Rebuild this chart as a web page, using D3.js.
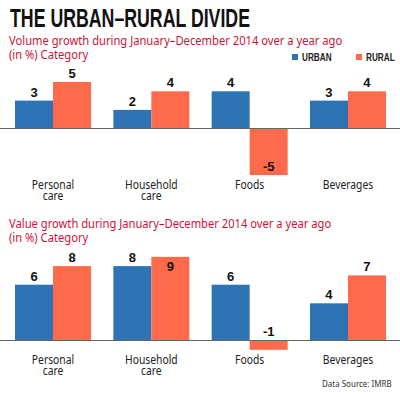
<!DOCTYPE html>
<html>
<head>
<meta charset="utf-8">
<script src="https://cdn.jsdelivr.net/npm/d3@7"></script>
<style>
  body { margin: 0; background: #fff; }
  svg { display: block; }
</style>
</head>
<body>
<div id="chart"></div>
<script>
const svgWidth = 400;
const svgHeight = 397;

// data
const categories = ["Personal care", "Household care", "Foods", "Beverages"];
const seriesNames = ["URBAN", "RURAL"];
const volumeUrban = [3, 2, 4, 3];
const volumeRural = [5, 4, -5, 4];
const valueUrban = [6, 8, 6, 4];
const valueRural = [8, 9, -1, 7];

const colors = { URBAN: "#2e74b5", RURAL: "#fd6a4c" };
const subColor = "#cf1237";
const pxPerUnit = 9.3;

const svg = d3.select("#chart")
  .append("svg")
  .attr("width", svgWidth)
  .attr("height", svgHeight);

// squeeze a text horizontally, the original uses a condensed face
function squeeze(sel, factor) {
  sel.each(function() {
    const w = this.getComputedTextLength();
    d3.select(this)
      .attr("textLength", w * factor)
      .attr("lengthAdjust", "spacingAndGlyphs");
  });
  return sel;
}

// title
svg.append("text")
  .attr("x", 10)
  .attr("y", 27)
  .attr("font-family", "Liberation Sans, Arial, sans-serif")
  .attr("font-weight", "bold")
  .attr("font-size", 26)
  .attr("fill", "#111")
  .attr("textLength", 240)
  .attr("lengthAdjust", "spacingAndGlyphs")
  .text("THE URBAN\u2013RURAL DIVIDE");

// shared x scales
const x0 = d3.scaleBand()
  .domain(categories)
  .range([15, 386])
  .paddingInner(0.227)
  .paddingOuter(0);

const x1 = d3.scaleBand()
  .domain(seriesNames)
  .range([0, x0.bandwidth()]);

function subtitle(y, line1) {
  [line1, "(in %) Category"].forEach((s, i) => {
    const t = svg.append("text")
      .attr("x", 9)
      .attr("y", y + i * 14)
      .attr("font-family", "Noto Sans, sans-serif")
      .attr("font-size", 13)
      .attr("fill", subColor)
      .text(s);
    squeeze(t, 0.86);
  });
}

function drawPanel(urban, rural, baseY, subBottom) {
  const rows = categories.map((c, i) => ({ cat: c, URBAN: urban[i], RURAL: rural[i] }));

  const y = d3.scaleLinear()
    .domain([-10, 10])
    .range([baseY + 10 * pxPerUnit, baseY - 10 * pxPerUnit]);

  const g = svg.append("g");

  const groups = g.selectAll("g.cat")
    .data(rows)
    .enter()
    .append("g")
    .attr("transform", d => `translate(${x0(d.cat)},0)`);

  const bars = groups.selectAll("g.bar")
    .data(d => seriesNames.map(k => ({ key: k, value: d[k] })))
    .enter()
    .append("g");

  bars.append("rect")
    .attr("x", d => x1(d.key))
    .attr("width", x1.bandwidth())
    .attr("y", d => y(Math.max(0, d.value)))
    .attr("height", d => Math.abs(y(d.value) - y(0)))
    .attr("fill", d => colors[d.key]);

  bars.append("text")
    .attr("x", d => x1(d.key) + x1.bandwidth() / 2)
    .attr("y", d => {
      const top = y(d.value);
      if (d.value >= 0) {
        // label would run into the subtitle: put it inside the bar
        if (top - 14 < subBottom) return top + 14;
        return top - 4;
      }
      const h = y(d.value) - y(0);
      return h > 20 ? top - 4 : y(0) - 5;
    })
    .attr("text-anchor", "middle")
    .attr("font-family", "Liberation Sans, sans-serif")
    .attr("font-weight", "bold")
    .attr("font-size", 13)
    .attr("fill", "#111")
    .text(d => d.value);

  // zero line
  g.append("line")
    .attr("x1", 0)
    .attr("x2", svgWidth)
    .attr("y1", y(0))
    .attr("y2", y(0))
    .attr("stroke", "#666")
    .attr("stroke-width", 1);

  // category labels, below the lowest bar of the panel
  const minVal = d3.min(rows, d => Math.min(0, d.URBAN, d.RURAL));
  const labelY = y(minVal) + 14;
  categories.forEach(c => {
    const cx = x0(c) + x0.bandwidth() / 2;
    c.split(" ").forEach((w, i) => {
      const t = g.append("text")
        .attr("x", cx)
        .attr("y", labelY + i * 11)
        .attr("text-anchor", "middle")
        .attr("font-family", "Noto Sans, sans-serif")
        .attr("font-size", 12)
        .attr("fill", "#222")
        .text(w);
      squeeze(t, 0.86);
    });
  });
}

subtitle(45, "Volume growth during January\u2013December 2014 over a year ago");
subtitle(227.5, "Value growth during January\u2013December 2014 over a year ago");

// legend
const legend = svg.append("g")
  .attr("font-family", "Liberation Sans, sans-serif")
  .attr("font-weight", "bold")
  .attr("font-size", 10)
  .attr("fill", "#222");
const legendX = d3.scalePoint().domain(seriesNames).range([292, 356]);
seriesNames.forEach(k => {
  legend.append("rect")
    .attr("x", legendX(k))
    .attr("y", 54)
    .attr("width", 6)
    .attr("height", 6)
    .attr("fill", colors[k]);
  const t = legend.append("text")
    .attr("x", legendX(k) + 10)
    .attr("y", 60.5)
    .text(k);
  squeeze(t, 0.82);
});

drawPanel(volumeUrban, volumeRural, 128.5, 62);
drawPanel(valueUrban, valueRural, 340.5, 244);

// source
const src = svg.append("text")
  .attr("x", 322)
  .attr("y", 387)
  .attr("font-family", "Noto Sans, sans-serif")
  .attr("font-size", 9.5)
  .attr("fill", "#333")
  .text("Data Source: IMRB");
squeeze(src, 0.84);
</script>
</body>
</html>
